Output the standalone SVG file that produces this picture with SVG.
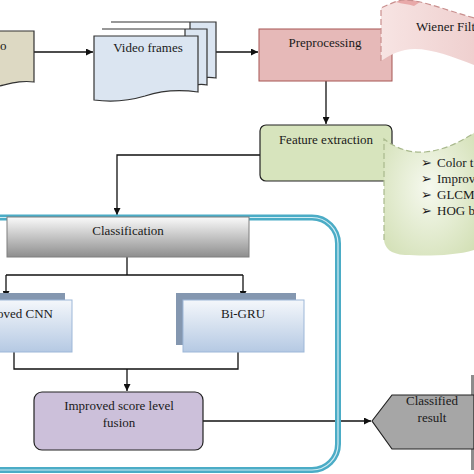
<svg xmlns="http://www.w3.org/2000/svg" width="474" height="474" viewBox="0 0 474 474">
<defs>
<style>
text{font-family:"Liberation Serif","Times New Roman",serif;font-size:13px;fill:#1a1a1a}
.c{text-anchor:middle}
.ln{fill:none;stroke:#111;stroke-width:1.3}
.doc{fill:#dbe5f1;stroke:#333;stroke-width:1.2}
.card{fill:url(#gBlue);stroke:#9db7d8;stroke-width:1}
.cardb{fill:#8497b0}
</style>
<marker id="ar" viewBox="0 0 10 10" refX="10" refY="5" markerWidth="7" markerHeight="7" orient="auto" markerUnits="userSpaceOnUse">
<path d="M0,0 L10,5 L0,10 Z" fill="#111"/>
</marker>
<linearGradient id="gBlue" x1="0" y1="0" x2="0" y2="1">
<stop offset="0" stop-color="#f4f7fb"/>
<stop offset="1" stop-color="#b5c9e3"/>
</linearGradient>
<linearGradient id="gGray" x1="0" y1="0" x2="0" y2="1">
<stop offset="0" stop-color="#fafafa"/>
<stop offset="1" stop-color="#8e8e8e"/>
</linearGradient>
<linearGradient id="gPink" x1="0" y1="0" x2="1" y2="0">
<stop offset="0" stop-color="#f7e4e3"/>
<stop offset="1" stop-color="#efd0cf"/>
</linearGradient>
<radialGradient id="gGreen" cx="0.5" cy="0.45" r="0.7">
<stop offset="0" stop-color="#f6f9ef"/>
<stop offset="1" stop-color="#d3e0b6"/>
</radialGradient>
</defs>

<g id="connectors">
<path class="ln" d="M34,52 H93" marker-end="url(#ar)"/>
<path class="ln" d="M216,52 H258" marker-end="url(#ar)"/>
<path class="ln" d="M326,81 V124" marker-end="url(#ar)"/>
<path class="ln" d="M260,155 H117 V215" marker-end="url(#ar)"/>
<path class="ln" d="M127,257 V275"/>
<path class="ln" d="M6,275 H243"/>
<path class="ln" d="M6,275 V298" marker-end="url(#ar)"/>
<path class="ln" d="M243,275 V298" marker-end="url(#ar)"/>
<path class="ln" d="M14,352 V369 H238 V352"/>
<path class="ln" d="M127,369 V391" marker-end="url(#ar)"/>
<path class="ln" d="M203,421 H371" marker-end="url(#ar)"/>
</g>

<g id="container">
<rect x="-30" y="217.5" width="368" height="252.5" rx="26" fill="none" stroke="#4bacc6" stroke-width="6"/>
<rect x="-30" y="217.5" width="368" height="252.5" rx="26" fill="none" stroke="#d2ecf3" stroke-width="1.2"/>
</g>

<g id="input-video">
<path d="M-10,31 H34 V82 C20,80 10,84 -10,88 Z" fill="#ddd9c3" stroke="#333" stroke-width="1.2"/>
<text x="0" y="50">o</text>
</g>

<g id="video-frames">
<path class="doc" d="M111,22 H216 V78 C205,76 195,79 190,80 V22 Z"/>
<path class="doc" d="M102,29 H207 V85 C198,83 190,86 185,87 V29 Z"/>
<path class="doc" d="M94,36 H198 V92 C178,89 160,91 145,96 C125,102 110,102 94,100 Z"/>
<text class="c" x="148" y="52">Video frames</text>
</g>

<g id="preprocessing">
<rect x="259" y="29" width="133" height="52" fill="#e6b9b8" stroke="#a65552" stroke-width="1"/>
<text class="c" x="325" y="47">Preprocessing</text>
</g>

<g id="wiener-filter">
<path d="M381,8 C392,3 398,0 405,0 C420,0 440,8 474,18 V65 C450,56 425,46 405,50 C392,53 386,58 381,61 Z" fill="url(#gPink)"/>
<path d="M396,2 C402,-1 412,-1 420,2 L414,6 C408,4 402,4 396,2 Z" fill="#e8a9a9"/>
<path d="M381,61 V8 C392,3 398,0 405,0 C420,0 440,8 474,18" fill="none" stroke="#c98f8e" stroke-width="1.2" stroke-dasharray="6,3"/>
<text x="416" y="31">Wiener Filter</text>
</g>

<g id="feature-extraction">
<rect x="260" y="125" width="132" height="56" rx="6" fill="#d7e4bd" stroke="#222" stroke-width="1.2"/>
<text class="c" x="326" y="144">Feature extraction</text>
</g>

<g id="feature-list">
<path d="M384,139 C398,150 412,153 425,152 C445,150 460,142 474,133 V250 C455,256 425,256 405,255 C390,254 385,248 384,240 Z" fill="url(#gGreen)"/>
<path d="M384,240 V139 C398,150 412,153 425,152 C445,150 460,142 474,133" fill="none" stroke="#a9b98d" stroke-width="1.2" stroke-dasharray="6,3"/>
<text x="421" y="167">➢</text><text x="437" y="167">Color t</text>
<text x="421" y="183">➢</text><text x="437" y="183">Improv</text>
<text x="421" y="199">➢</text><text x="437" y="199">GLCM</text>
<text x="421" y="215">➢</text><text x="437" y="215">HOG b</text>
</g>

<g id="classification">
<rect x="7" y="217" width="242" height="40" fill="url(#gGray)" stroke="#7f7f7f" stroke-width="1"/>
<text class="c" x="128" y="235">Classification</text>
</g>

<g id="improved-cnn">
<rect class="cardb" x="-40" y="293" width="105" height="50"/>
<rect class="card" x="-33" y="300" width="105" height="52"/>
<text x="53" y="318" text-anchor="end">Improved CNN</text>
</g>

<g id="bi-gru">
<rect class="cardb" x="176" y="293" width="120" height="52"/>
<rect class="card" x="183" y="300" width="121" height="52"/>
<text class="c" x="243" y="318">Bi-GRU</text>
</g>

<g id="fusion">
<rect x="34" y="392" width="169" height="58" rx="8" fill="#ccc0da" stroke="#222" stroke-width="1.2"/>
<text class="c" x="119" y="410">Improved score level</text>
<text class="c" x="119" y="427">fusion</text>
</g>

<g id="classified-result">
<rect x="471" y="375" width="4" height="95" fill="#8c8c8c"/>
<path d="M372,421 L392,395 H474 V449 H392 Z" fill="#a6a6a6" stroke="#222" stroke-width="1.2"/>
<text class="c" x="432" y="405">Classified</text>
<text class="c" x="432" y="422">result</text>
</g>
</svg>
